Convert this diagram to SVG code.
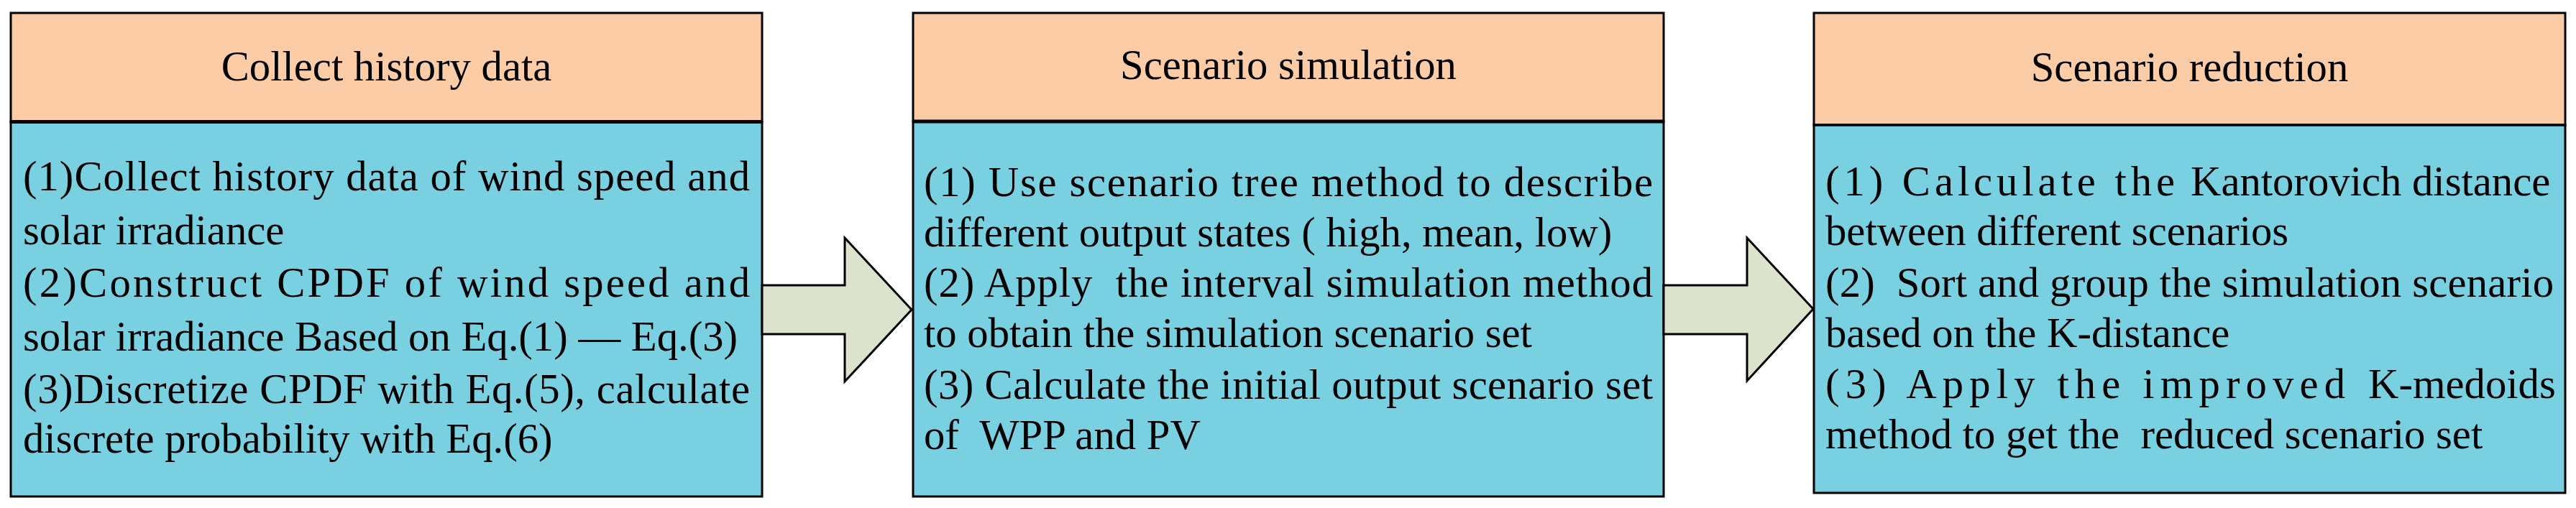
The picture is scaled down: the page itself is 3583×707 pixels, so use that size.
<svg xmlns="http://www.w3.org/2000/svg" width="3583" height="707" viewBox="0 0 3583 707">
<style>
.hdr{fill:#FCCCA7;stroke:#000;stroke-width:3}
.body{fill:#79D0E0;stroke:#000;stroke-width:3}
.div{stroke:#000;stroke-width:5}
.arrow{fill:#DCE3CD;stroke:#000;stroke-width:3;stroke-linejoin:miter}
text{font-family:"Liberation Serif","Times New Roman",serif;font-size:58.7px;fill:#000}
.c{text-anchor:middle}
</style>
<rect width="3583" height="707" fill="#fff"/>
<g id="node-collect">
<rect class="hdr" x="15" y="18" width="1045" height="151.5"/>
<rect class="body" x="15" y="169.5" width="1045" height="521.5"/>
<line class="div" x1="15" y1="169.5" x2="1060" y2="169.5"/>
<text class="c" x="537.5" y="112">Collect history data</text>
<text x="32" y="265" textLength="1011" lengthAdjust="spacing">(1)Collect history data of wind speed and</text>
<text x="32" y="340">solar irradiance</text>
<text x="32" y="413" textLength="1011" lengthAdjust="spacing">(2)Construct CPDF of wind speed and</text>
<text x="32" y="488">solar irradiance Based on Eq.(1) — Eq.(3)</text>
<text x="32" y="561" textLength="1011" lengthAdjust="spacing">(3)Discretize CPDF with Eq.(5), calculate</text>
<text x="32" y="630">discrete probability with Eq.(6)</text>
</g>
<g id="node-simulation">
<rect class="hdr" x="1270" y="18" width="1044" height="151"/>
<rect class="body" x="1270" y="169" width="1044" height="522"/>
<line class="div" x1="1270" y1="169" x2="2314" y2="169"/>
<text class="c" x="1792" y="110">Scenario simulation</text>
<text x="1285" y="272.5" textLength="1014" lengthAdjust="spacing">(1) Use scenario tree method to describe</text>
<text x="1285" y="342.5">different output states ( high, mean, low)</text>
<text x="1285" y="413" xml:space="preserve" textLength="1014" lengthAdjust="spacing">(2) Apply  the interval simulation method</text>
<text x="1285" y="483">to obtain the simulation scenario set</text>
<text x="1285" y="555" textLength="1014" lengthAdjust="spacing">(3) Calculate the initial output scenario set</text>
<text x="1285" y="625" xml:space="preserve">of  WPP and PV</text>
</g>
<g id="node-reduction">
<rect class="hdr" x="2523" y="18" width="1045" height="156"/>
<rect class="body" x="2523" y="174" width="1045" height="512"/>
<line x1="2523" y1="174" x2="3568" y2="174" stroke="#000" stroke-width="3"/>
<text class="c" x="3045.5" y="112.5">Scenario reduction</text>
<text x="2539" y="271.5" textLength="486" lengthAdjust="spacing">(1) Calculate the</text>
<text x="3047" y="271.5">Kantorovich distance</text>
<text x="2539" y="341">between different scenarios</text>
<text x="2539" y="412.5" xml:space="preserve" textLength="1013" lengthAdjust="spacing">(2)  Sort and group the simulation scenario</text>
<text x="2539" y="482.5">based on the K-distance</text>
<text x="2539" y="554" textLength="723" lengthAdjust="spacing">(3) Apply the improved</text>
<text x="3294" y="554">K-medoids</text>
<text x="2539" y="624" xml:space="preserve">method to get the  reduced scenario set</text>
</g>
<g id="connectors">
<polygon class="arrow" points="1060,397 1175,397 1175,331 1268,431 1175,531 1175,465 1060,465"/>
<polygon class="arrow" points="2314,397 2430,397 2430,331 2522,430 2430,530 2430,465 2314,465"/>
</g>
</svg>
